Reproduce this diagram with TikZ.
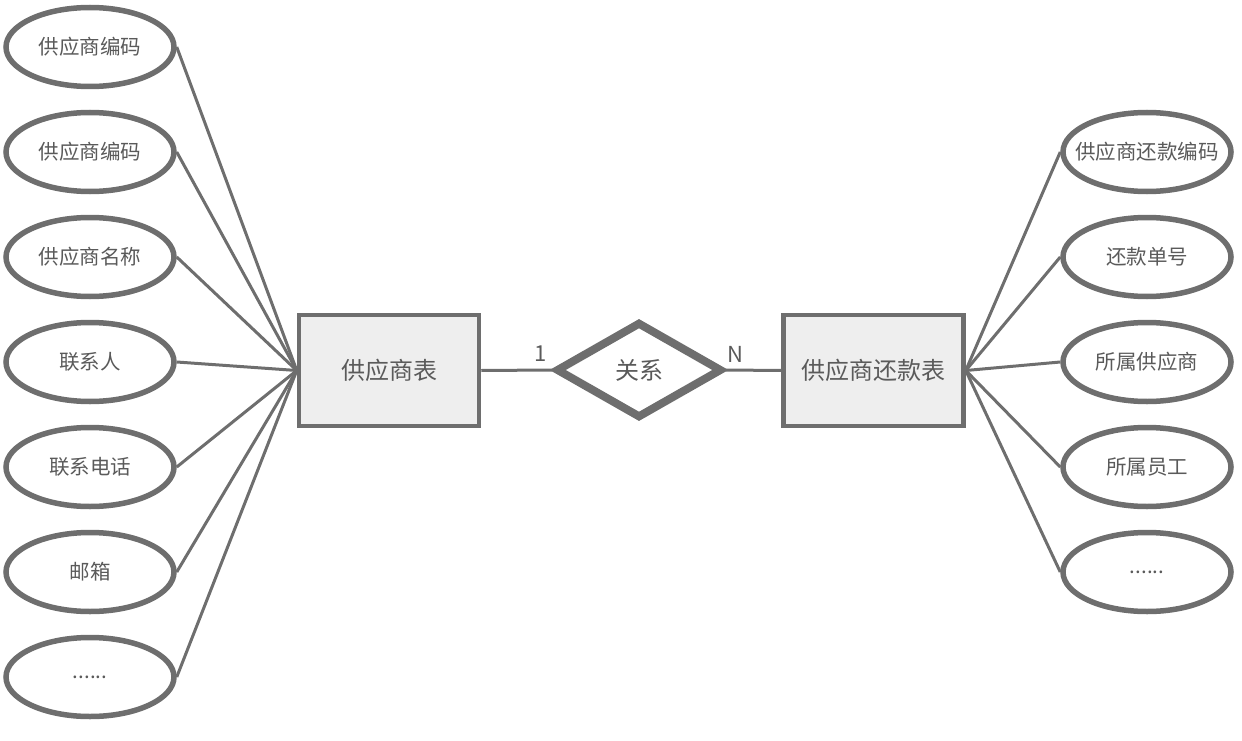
\documentclass[tikz,border=0pt]{standalone}
\usepackage{fontspec}
\setmainfont{Noto Sans CJK SC}
\usetikzlibrary{shapes.geometric}
\definecolor{edge}{HTML}{6E6E6E}
\definecolor{txt}{HTML}{5A5A5A}
\definecolor{boxfill}{HTML}{EEEEEE}
\tikzset{
  attr/.style={ellipse, draw=edge, line width=5.5pt, fill=white, minimum width=168pt, minimum height=79pt, inner sep=0pt, text=txt, font=\fontsize{20.5}{24}\selectfont},
  ent/.style={rectangle, draw=edge, line width=4.5pt, fill=boxfill, minimum width=180pt, minimum height=111pt, inner sep=0pt, text=txt, font=\fontsize{24}{28}\selectfont},
  rel/.style={diamond, draw=edge, line width=8pt, fill=white, minimum width=166pt, minimum height=96pt, inner sep=0pt, text=txt, font=\fontsize{24}{28}\selectfont},
  conn/.style={draw=edge, line width=3pt},
  card/.style={text=txt, font=\fontsize{22}{26}\selectfont, inner sep=0pt}
}
\newcommand{\zw}[1]{\makebox[0pt]{#1}}
\begin{document}
\begin{tikzpicture}[x=1pt,y=-1pt]
\useasboundingbox (0,0) rectangle (1242,741);
\node[ent] (e1) at (389,370.5) {供应商表};
\node[ent] (e2) at (873.5,370.5) {供应商还款表};
\node[rel] (r) at (639,370) {关系};
\node[attr] (a1) at (90,47) {\zw{供应商编码}};
\node[attr] (a2) at (90,152) {\zw{供应商编码}};
\node[attr] (a3) at (90,257) {\zw{供应商名称}};
\node[attr] (a4) at (90,362) {\zw{联系人}};
\node[attr] (a5) at (90,467) {\zw{联系电话}};
\node[attr] (a6) at (90,572) {\zw{邮箱}};
\node[attr] (a7) at (90,677) {\zw{......}};
\node[attr] (b1) at (1147,152) {\zw{供应商还款编码}};
\node[attr] (b2) at (1147,257) {\zw{还款单号}};
\node[attr] (b3) at (1147,362) {\zw{所属供应商}};
\node[attr] (b4) at (1147,467) {\zw{所属员工}};
\node[attr] (b5) at (1147,572) {\zw{......}};
\foreach \a in {a1,a2,a3,a4,a5,a6,a7} \draw[conn] (\a.east) -- (e1.west);
\foreach \b in {b1,b2,b3,b4,b5} \draw[conn] (e2.east) -- (\b.west);
\draw[conn] (e1.east) -- (r.west);
\draw[conn] (r.east) -- (e2.west);
\node[card] (c1) at (541,354) {1};
\node[card] (c2) at (735,354) {N};
\end{tikzpicture}
\end{document}
